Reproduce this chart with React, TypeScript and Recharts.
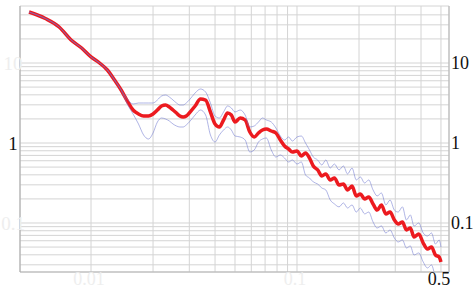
import { LineChart, Line, XAxis, YAxis, CartesianGrid } from 'recharts';

// frequency (log axis)
const freq = [
  0.005, 0.006, 0.007, 0.008, 0.009, 0.01, 0.011, 0.012, 0.013, 0.014, 0.015,
  0.016, 0.017, 0.018, 0.019, 0.02, 0.021, 0.022, 0.023, 0.024, 0.025, 0.026, 0.027, 0.028, 0.029, 0.03,
  0.032, 0.034, 0.036, 0.038, 0.04, 0.042, 0.044, 0.046, 0.048, 0.05,
  0.053, 0.056, 0.059, 0.062, 0.065, 0.068, 0.071, 0.075, 0.079, 0.083, 0.087, 0.091, 0.095, 0.1,
  0.105, 0.11, 0.115, 0.12, 0.126, 0.132, 0.138, 0.145, 0.152, 0.16, 0.168, 0.176, 0.185, 0.194, 0.203,
  0.213, 0.223, 0.234, 0.245, 0.257, 0.27, 0.283, 0.297, 0.31, 0.325, 0.34, 0.355, 0.37, 0.39, 0.41,
  0.43, 0.45, 0.47, 0.49, 0.5,
];

const meanPsd = [
  43.4, 36.0, 28.2, 19.4, 15.4, 11.9, 10.0, 8.18, 6.13, 4.6, 3.35,
  2.585, 2.304, 2.175, 2.175, 2.304, 2.585, 2.901, 2.985, 2.818, 2.585, 2.371, 2.175, 2.113, 2.175, 2.371,
  2.901, 3.548, 3.447, 2.441, 1.728, 1.585, 1.939, 2.371, 2.239, 1.83,
  2.054, 1.939, 1.373, 1.189, 1.334, 1.454, 1.496, 1.413, 1.334, 1.09, 0.917, 0.841, 0.772, 0.794,
  0.688, 0.75, 0.649, 0.516, 0.46, 0.387, 0.41, 0.345, 0.365, 0.299, 0.307, 0.259, 0.29, 0.218, 0.23,
  0.2, 0.211, 0.173, 0.145, 0.168, 0.13, 0.137, 0.109, 0.0972, 0.103, 0.0818, 0.0866, 0.0668, 0.0729, 0.0562,
  0.0473, 0.0501, 0.0398, 0.0376, 0.0326,
];

const upperPsd = [
  43.4, 36.0, 28.2, 19.4, 15.4, 11.9, 10.0, 8.18, 6.13, 4.6, 3.548,
  3.073, 3.162, 3.162, 3.162, 3.162, 3.447, 3.868, 3.981, 3.758, 3.447, 3.162, 2.985, 2.985, 3.162, 3.447,
  4.217, 4.732, 4.34, 3.162, 2.175, 2.054, 2.441, 2.901, 2.738, 2.441,
  2.585, 2.239, 1.585, 1.631, 1.83, 2.054, 1.939, 1.83, 1.54, 1.223, 1.09, 1.189, 1.059, 1.189,
  1.223, 1.0, 0.818, 0.668, 0.613, 0.531, 0.613, 0.487, 0.546, 0.46, 0.516, 0.41, 0.487, 0.345, 0.376,
  0.316, 0.345, 0.259, 0.218, 0.237, 0.168, 0.194, 0.145, 0.137, 0.159, 0.109, 0.126, 0.0917, 0.1, 0.075,
  0.0688, 0.075, 0.0546, 0.0613, 0.0501,
];

const lowerPsd = [
  43.4, 36.0, 28.2, 19.4, 15.4, 11.9, 10.0, 8.18, 6.13, 4.6, 3.073,
  2.304, 1.728, 1.259, 1.122, 1.334, 1.83, 2.054, 1.995, 1.884, 1.728, 1.631, 1.585, 1.585, 1.679, 1.83,
  2.239, 2.585, 2.239, 1.259, 1.029, 1.259, 1.454, 1.585, 1.454, 1.223,
  1.189, 1.09, 0.772, 0.818, 1.029, 1.122, 1.155, 0.818, 0.668, 0.708, 0.649, 0.579, 0.613, 0.546,
  0.579, 0.398, 0.365, 0.326, 0.307, 0.274, 0.259, 0.194, 0.173, 0.159, 0.178, 0.154, 0.168, 0.137, 0.154,
  0.13, 0.137, 0.103, 0.0866, 0.0917, 0.075, 0.0818, 0.0649, 0.0579, 0.0613, 0.0487, 0.0516, 0.0398, 0.0422, 0.0326,
  0.0274, 0.0299, 0.0224, 0.0244, 0.0205,
];

const xGrid = [0.01, 0.02, 0.03, 0.04, 0.05, 0.06, 0.07, 0.08, 0.09, 0.1, 0.2, 0.3, 0.4, 0.5];
const yGrid = [
  0.03, 0.04, 0.05, 0.06, 0.07, 0.08, 0.09,
  0.1, 0.2, 0.3, 0.4, 0.5, 0.6, 0.7, 0.8, 0.9,
  1, 2, 3, 4, 5, 6, 7, 8, 9,
  10, 20, 30, 40,
];
const xLabels = ['0.01', '0.1', '0.5'];
const yLabels = ['0.1', '1', '10'];

const data = freq.map((f, i) => ({ f, mean: meanPsd[i], upper: upperPsd[i], lower: lowerPsd[i] }));

const serif = '"Liberation Serif", "Times New Roman", serif';

function LeftTick({ x, y, payload }: any) {
  const label = String(payload.value);
  if (!yLabels.includes(label)) return null;
  const fill = label === '1' ? '#111' : '#eeeeee';
  return (
    <text x={x} y={y + 7} textAnchor="middle" fontSize={19} fontFamily={serif} fill={fill}>
      {label}
    </text>
  );
}

function RightTick({ x, y, payload }: any) {
  const label = String(payload.value);
  if (!yLabels.includes(label)) return null;
  return (
    <text x={x} y={y + 6} textAnchor="start" fontSize={18} fontFamily={serif} fill="#111">
      {label}
    </text>
  );
}

function BottomTick({ x, y, payload }: any) {
  const label = String(payload.value);
  if (!xLabels.includes(label)) return null;
  const fill = label === '0.5' ? '#111' : '#eeeeee';
  return (
    <text x={x - 2} y={y + 13} textAnchor="middle" fontSize={18} fontFamily={serif} fill={fill}>
      {label}
    </text>
  );
}

export default function App() {
  return (
    <div style={{ position: 'absolute', left: 0, top: 0, width: 474, height: 289, background: '#fff' }}>
      <LineChart width={474} height={289} data={data} margin={{ top: 6, right: 0, bottom: 0, left: 0 }}>
        <CartesianGrid yAxisId="left" stroke="#d4d4d4" strokeWidth={1} />
        <XAxis
          dataKey="f"
          type="number"
          scale="log"
          domain={[0.00452, 0.547]}
          allowDataOverflow
          ticks={xGrid}
          interval={0}
          height={17}
          tickSize={0}
          tickMargin={0}
          tick={<BottomTick />}
          axisLine={{ stroke: '#b5b5b5' }}
        />
        <XAxis
          xAxisId="top"
          dataKey="f"
          orientation="top"
          type="number"
          scale="log"
          domain={[0.00452, 0.547]}
          allowDataOverflow
          height={0}
          tick={false}
          axisLine={{ stroke: '#c8c8c8' }}
        />
        <YAxis
          yAxisId="left"
          type="number"
          scale="log"
          domain={[0.0244, 51.6]}
          allowDataOverflow
          ticks={yGrid}
          interval={0}
          width={20}
          tickSize={0}
          tickMargin={7}
          tick={<LeftTick />}
          axisLine={{ stroke: '#a8a8a8' }}
        />
        <YAxis
          yAxisId="right"
          orientation="right"
          type="number"
          scale="log"
          domain={[0.0244, 51.6]}
          allowDataOverflow
          ticks={yGrid}
          interval={0}
          width={25}
          tickSize={0}
          tickMargin={2}
          tick={<RightTick />}
          axisLine={{ stroke: '#b5b5b5' }}
        />
        <Line yAxisId="left" type="monotone" dataKey="mean" stroke="#ec1a1f" strokeWidth={3.5} dot={false} isAnimationActive={false} />
        <Line yAxisId="left" type="monotone" dataKey="upper" stroke="#6f78d0" strokeOpacity={0.55} strokeWidth={1} dot={false} isAnimationActive={false} />
        <Line yAxisId="left" type="monotone" dataKey="lower" stroke="#6f78d0" strokeOpacity={0.55} strokeWidth={1} dot={false} isAnimationActive={false} />
      </LineChart>
    </div>
  );
}
